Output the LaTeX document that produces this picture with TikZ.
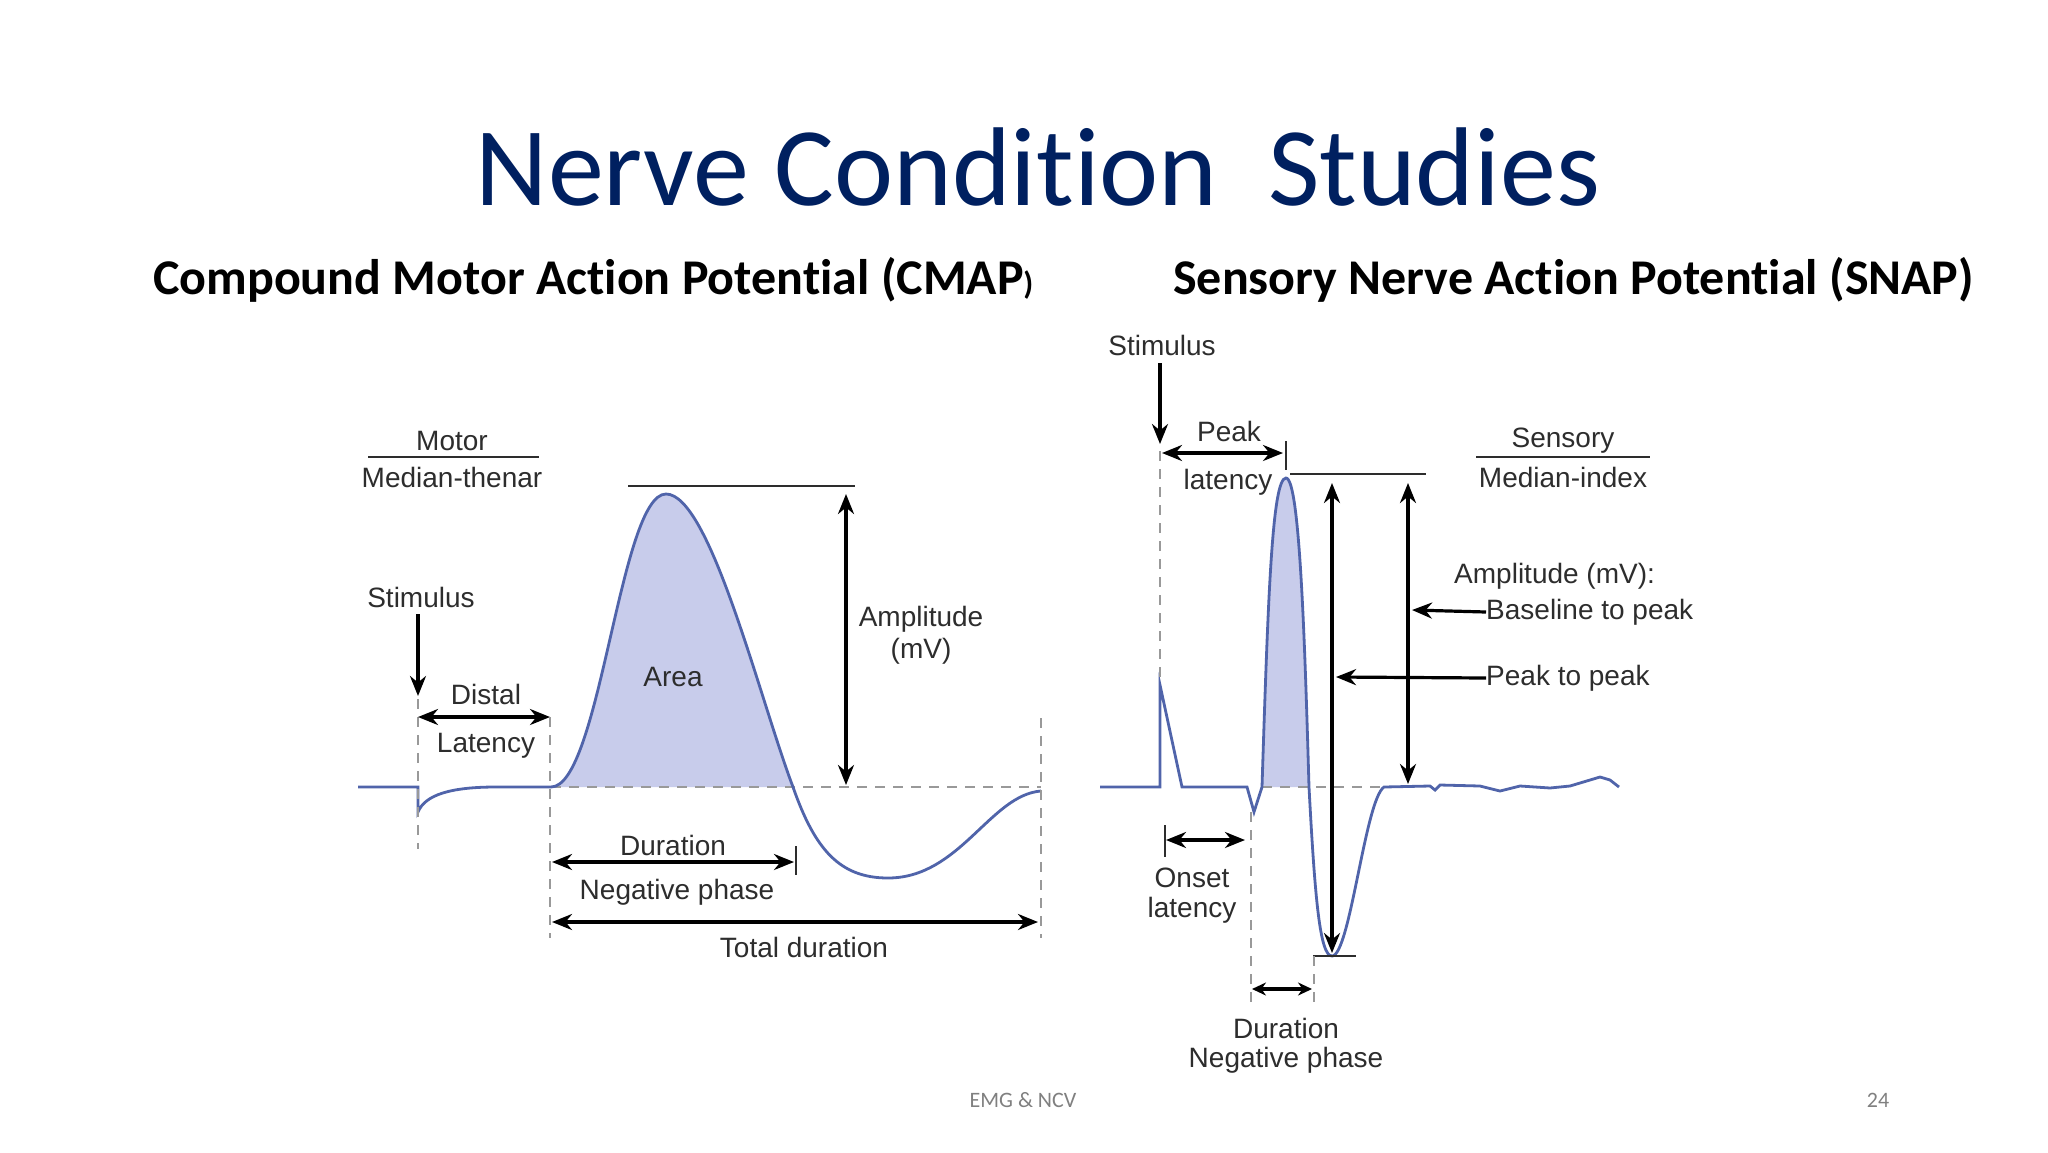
\documentclass[tikz,border=0pt]{standalone}
\usepackage{fontspec}
\setmainfont{Liberation Sans}
\newfontfamily\carl[Ligatures={NoCommon}]{Carlito}
\usetikzlibrary{arrows.meta}
\definecolor{navy}{RGB}{0,32,96}
\definecolor{wave}{RGB}{80,100,170}
\definecolor{wfill}{RGB}{200,204,235}
\definecolor{lab}{RGB}{45,45,45}
\tikzset{
 lbl/.style={text=lab,font=\fontsize{28}{32}\selectfont,inner sep=0pt,align=center},
 arr/.style={line width=3.2pt,-{Stealth[length=20pt,width=16pt]}},
 darr/.style={line width=3.2pt,{Stealth[length=20pt,width=16pt]}-{Stealth[length=20pt,width=16pt]}},
 dsh/.style={gray!80,line width=2.2pt,dash pattern=on 10pt off 8pt},
 hair/.style={lab,line width=1.8pt},
 wv/.style={wave,line width=2.8pt},
}
\begin{document}
\begin{tikzpicture}[x=1pt,y=-1pt]
\useasboundingbox[fill=white] (0,0) rectangle (2048,1152);
% titles
\node[text=navy,font=\carl\fontsize{112}{120}\selectfont,inner sep=0pt] (title) at (1038,167) {Nerve Condition\ \ Studies};
\node[font=\carl\bfseries\fontsize{50}{54}\selectfont,anchor=west,inner sep=0pt] (lt) at (153,280) {Compound Motor Action Potential (CMAP\fontsize{32}{32}\selectfont)};
\node[font=\carl\bfseries\fontsize{50}{54}\selectfont,anchor=west,inner sep=0pt] (rt) at (1173,280) {Sensory Nerve Action Potential (SNAP)};
\node[text=gray,font=\carl\fontsize{22}{24}\selectfont,inner sep=0pt] (foot) at (1023,1100) {EMG \& NCV};
\node[text=gray,font=\carl\fontsize{22}{24}\selectfont,inner sep=0pt] (pg) at (1878,1100) {24};

%%% LEFT (CMAP)
\fill[wfill] (551,787) .. controls (600,787) and (620,494) .. (666,494) .. controls (710,494) and (760,700) .. (793,787) -- cycle;
\draw[dsh] (551,787) -- (1041,787);
\draw[wv] (358,787) -- (418,787) -- (418,812) .. controls (425,795) and (450,787) .. (496,787) -- (551,787)
  .. controls (600,787) and (620,494) .. (666,494) .. controls (710,494) and (760,700) .. (793,787)
  .. controls (815,850) and (840,878) .. (888,878) .. controls (960,878) and (990,795) .. (1041,791);
\draw[hair] (628,486) -- (855,486);
\coordinate (a1) at (846,494); \coordinate (a2) at (846,785);
\draw[darr] (a1) -- (a2);
\node[lbl] (amp) at (921,635) {Amplitude\\(mV)};
\node[lbl] (area) at (673,677) {Area};
\node[lbl] (motor) at (452,441) {Motor};
\draw[hair] (368,457) -- (539,457);
\node[lbl] (mt) at (452,477) {Median-thenar};
\node[lbl] (stL) at (421,597) {Stimulus};
\coordinate (sL) at (418,696);
\draw[arr] (418,614) -- (sL);
\draw[dsh] (418,699) -- (418,849);
\coordinate (dl1) at (418,717); \coordinate (dl2) at (550,717);
\draw[darr] (dl1) -- (dl2);
\node[lbl] (dist) at (486,694) {Distal};
\node[lbl] (lat) at (486,746) {Latency};
\draw[dsh] (550,717) -- (550,938);
\draw[dsh] (1041,718) -- (1041,938);
\coordinate (du1) at (552,862); \coordinate (du2) at (794,862);
\draw[darr] (du1) -- (du2);
\draw[hair] (796,846) -- (796,875);
\node[lbl] (dur) at (673,845) {Duration};
\node[lbl] (neg) at (677,892) {Negative phase};
\coordinate (td1) at (552,922); \coordinate (td2) at (1038,922);
\draw[darr] (td1) -- (td2);
\node[lbl] (tot) at (804,947) {Total duration};

%%% RIGHT (SNAP)
\fill[wfill] (1262,787) .. controls (1268,600) and (1272,478) .. (1286,478) .. controls (1300,478) and (1305,650) .. (1309,787) -- cycle;
\draw[dsh] (1262,787) -- (1400,787);
\draw[wv] (1100,787) -- (1160,787) -- (1160,685) -- (1182,787) -- (1247,787) -- (1254,812) -- (1262,787)
  .. controls (1268,600) and (1272,478) .. (1286,478) .. controls (1300,478) and (1305,650) .. (1309,787)
  .. controls (1315,900) and (1320,956) .. (1332,956) .. controls (1350,956) and (1365,800) .. (1384,787)
  -- (1430,786) -- (1435,790) -- (1440,785) -- (1480,786) -- (1500,791) -- (1520,786) -- (1550,788)
  -- (1570,786) -- (1590,780) -- (1600,777) -- (1610,780) -- (1619,787);
\draw[hair] (1290,474) -- (1426,474);
\draw[hair] (1313,956) -- (1356,956);
\coordinate (pp1) at (1332,483); \coordinate (pp2) at (1332,953);
\draw[darr] (pp1) -- (pp2);
\coordinate (bp1) at (1408,483); \coordinate (bp2) at (1408,784);
\draw[darr] (bp1) -- (bp2);
\node[lbl,anchor=west] (ampR) at (1454,576) {Amplitude (mV):};
\node[lbl,anchor=west] (btp) at (1486,612) {Baseline to peak};
\node[lbl,anchor=west] (ptp) at (1486,678) {Peak to peak};
\coordinate (bpe) at (1412,610); \coordinate (ppe) at (1336,677);
\draw[arr] (btp.west) -- (bpe);
\draw[arr] (ptp.west) -- (ppe);
\node[lbl] (sens) at (1563,441) {Sensory};
\draw[hair] (1476,457) -- (1650,457);
\node[lbl] (mi) at (1563,477) {Median-index};
\node[lbl] (stR) at (1162,345) {Stimulus};
\coordinate (sR) at (1160,444);
\draw[arr] (1160,363) -- (sR);
\draw[dsh] (1160,451) -- (1160,679);
\coordinate (pl1) at (1162,453); \coordinate (pl2) at (1283,453);
\draw[darr] (pl1) -- (pl2);
\draw[hair] (1286,441) -- (1286,470);
\node[lbl] (peak) at (1229,431) {Peak};
\node[lbl] (plat) at (1228,482) {latency};
\coordinate (ol1) at (1166,840); \coordinate (ol2) at (1245,840);
\draw[darr] (ol1) -- (ol2);
\draw[hair] (1165,825) -- (1165,857);
\node[lbl] (onset) at (1192,878) {Onset};
\node[lbl] (olat) at (1192,910) {latency};
\draw[dsh] (1251,812) -- (1251,1006);
\draw[dsh] (1314,956) -- (1314,1006);
\coordinate (dn1) at (1252,989); \coordinate (dn2) at (1312,989);
\draw[line width=3.2pt,{Stealth[length=14pt,width=13pt]}-{Stealth[length=14pt,width=13pt]}] (dn1) -- (dn2);
\node[lbl] (durR) at (1286,1028) {Duration};
\node[lbl] (negR) at (1286,1060) {Negative phase};
\end{tikzpicture}
\end{document}
